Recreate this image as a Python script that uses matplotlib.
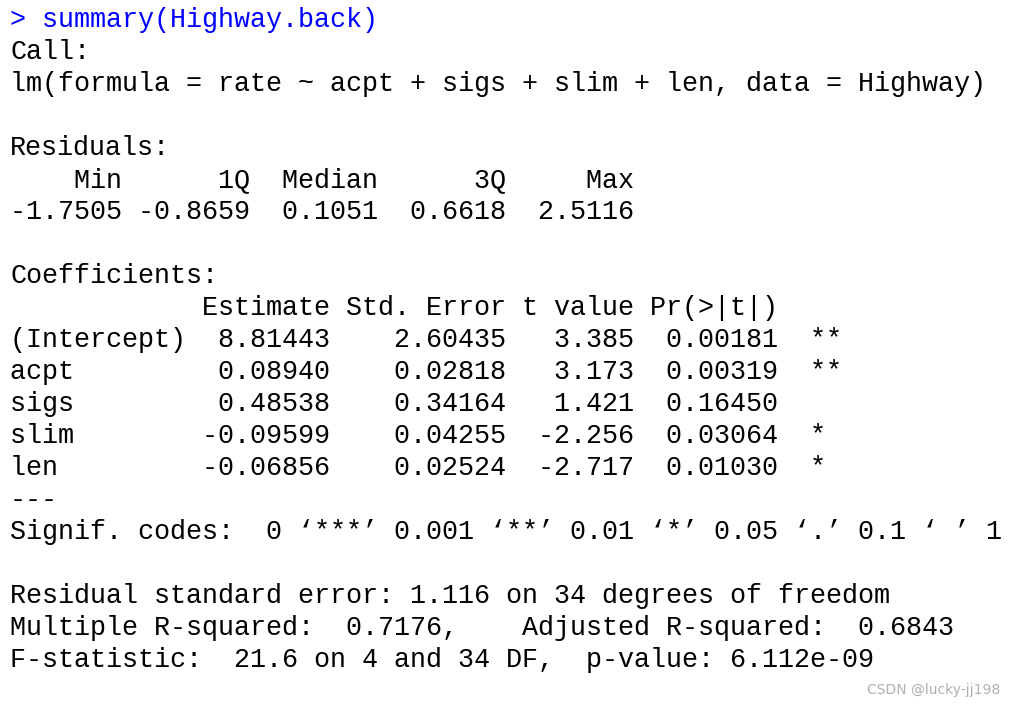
import matplotlib
matplotlib.use("Agg")
import matplotlib.pyplot as plt

command = "> summary(Highway.back)"
call = "lm(formula = rate ~ acpt + sigs + slim + len, data = Highway)"
resid_labels = ["Min", "1Q", "Median", "3Q", "Max"]
resid_values = ["-1.7505", "-0.8659", "0.1051", "0.6618", "2.5116"]
coef_names = ["(Intercept)", "acpt", "sigs", "slim", "len"]
estimates = ["8.81443", "0.08940", "0.48538", "-0.09599", "-0.06856"]
std_errors = ["2.60435", "0.02818", "0.34164", "0.04255", "0.02524"]
t_values = ["3.385", "3.173", "1.421", "-2.256", "-2.717"]
p_values = ["0.00181", "0.00319", "0.16450", "0.03064", "0.01030"]
stars = ["**", "**", "", "*", "*"]

W, H = 1016, 709
fig = plt.figure(figsize=(W/100, H/100), dpi=100)
fig.patch.set_facecolor("white")

res_head = " ".join(a.rjust(7) for a in resid_labels)
res_vals = " ".join(a.rjust(7) for a in resid_values)

nw = max(len(n) for n in coef_names)
lines = [(command, "#0000ff", 0), ("Call:", "black", 2), (call, "black", 3),
         ("Residuals:", "black", 5),
         (res_head, "black", 6), (res_vals, "black", 7), ("Coefficients:", "black", 9),
         (" " * nw + " Estimate Std. Error t value Pr(>|t|)", "black", 10)]
for i, n in enumerate(coef_names):
    s = f"{n.ljust(nw)} {estimates[i].rjust(8)} {std_errors[i].rjust(10)} {t_values[i].rjust(7)} {p_values[i].rjust(8)}  {stars[i]}"
    lines.append((s, "black", 11 + i))
lines += [("---", "black", 16),
          ("Signif. codes:  0 \u2018***\u2019 0.001 \u2018**\u2019 0.01 \u2018*\u2019 0.05 \u2018.\u2019 0.1 \u2018 \u2019 1", "black", 17),
          ("Residual standard error: 1.116 on 34 degrees of freedom", "black", 19),
          ("Multiple R-squared:  0.7176,    Adjusted R-squared:  0.6843 ", "black", 20),
          ("F-statistic:  21.6 on 4 and 34 DF,  p-value: 6.112e-09", "black", 21)]

for s, c, row in lines:
    y = 20 + 32 * row - (32 if row >= 2 else 0)
    fig.text(10/W, 1 - y/H, s, color=c, family="Liberation Mono", fontsize=19.3,
             va="center", ha="left")

fig.text(1000/W, 1 - 690/H, "CSDN @lucky-jj198", color="#b0b0b0", fontsize=10,
         ha="right", va="center", family="DejaVu Sans")
fig.savefig("out.png", dpi=100)
